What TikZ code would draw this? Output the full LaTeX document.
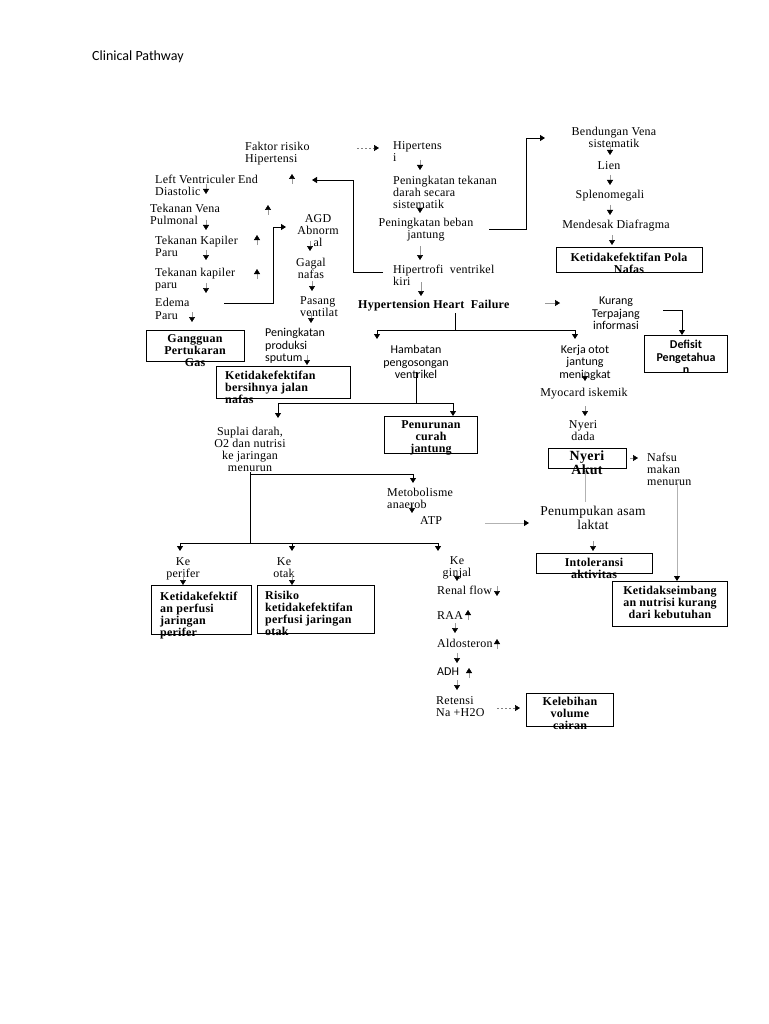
\documentclass[tikz,border=0pt]{standalone}
\usepackage{fontspec}
\setmainfont{Liberation Serif}[LetterSpace=2]
\setsansfont{Carlito}
\usetikzlibrary{arrows.meta}
\begin{document}
\begin{tikzpicture}[x=1pt,y=-1pt,
 rm/.style={inner sep=0pt, font=\fontsize{12}{12}\selectfont},
 tl/.style={rm, align=left, anchor=north west},
 tc/.style={rm, align=center, anchor=north},
 bl/.style={tl, font=\fontsize{12}{12}\selectfont\bfseries},
 bc/.style={tc, font=\fontsize{12}{12}\selectfont\bfseries},
 sc/.style={inner sep=0pt, font=\sffamily\fontsize{12}{12.5}\selectfont, align=center, anchor=north},
 sl/.style={sc, align=left, anchor=north west},
 sbc/.style={sc, font=\sffamily\bfseries\fontsize{12}{12.5}\selectfont},
 box/.style={draw, line width=0.8pt, inner sep=0pt},
 tip/.style={-{Triangle[width=6pt,length=5pt,color=black]}},
 arr/.style={draw=black!40, line width=0.5pt, tip},
 con/.style={draw=black, line width=0.8pt},
 cona/.style={con, tip},
 faint/.style={draw=black!30, line width=0.8pt},
 dsh/.style={draw=black!50, line width=0.6pt, dash pattern=on 2pt off 2pt, tip},
]
\useasboundingbox (0,0) rectangle (768,1024);
\fill[white] (0,0) rectangle (768,1024);

% title
\node[sl, font=\sffamily\fontsize{14}{16}\selectfont] (title) at (92,51) {Clinical Pathway};

% left column
\node[tl] (faktor) at (245,141.5) {Faktor risiko\\Hipertensi};
\node[tl] (lved) at (155,174.5) {Left Ventriculer End\\Diastolic};
\node[tl] (tvp) at (150,203.5) {Tekanan Vena\\Pulmonal};
\node[tl] (tkp) at (155,235.5) {Tekanan Kapiler\\Paru};
\node[tl] (tkp2) at (155,267.5) {Tekanan kapiler\\paru};
\node[tl, font=\fontsize{12}{13}\selectfont] (edema) at (155,297.5) {Edema\\Paru};
\node[tc] (agd) at (318,214.5) {AGD\\Abnorm\\al};
\node[tc] (gagal) at (311,257.5) {Gagal\\nafas};
\node[tl] (pasang) at (300,296.5) {Pasang\\ventilat};
\node[sl] (pps) at (265,328) {Peningkatan\\produksi\\sputum};

% centre column
\node[tl] (hip) at (393,141.5) {Hipertens\\i};
\node[tl] (ptd) at (393,175.5) {Peningkatan tekanan\\darah secara\\sistematik};
\node[tc] (pbj) at (426,217.5) {Peningkatan beban\\jantung};
\node[tl] (hvk) at (393,264.5) {Hipertrofi\ \ ventrikel\\kiri};
\node[bl] (hhf) at (358,299.5) {Hypertension Heart\ \ Failure};
\node[sc] (hamb) at (416,345) {Hambatan\\pengosongan\\ventrikel};

% right column
\node[tc] (bvs) at (614,126.5) {Bendungan Vena\\sistematik};
\node[tc] (lien) at (609,161.5) {Lien};
\node[tc] (spleno) at (610,189.5) {Splenomegali};
\node[tc] (mendesak) at (616,219.5) {Mendesak Diafragma};
\node[sc] (kurang) at (616,297) {Kurang\\Terpajang\\informasi};
\node[sc] (kerja) at (585,345) {Kerja otot\\jantung\\meningkat};
\node[tc] (myo) at (584,387.5) {Myocard iskemik};
\node[tc] (nyeri) at (583,420.5) {Nyeri\\dada};
\node[tl] (nafsu) at (647,452.5) {Nafsu\\makan\\menurun};
\node[tc, font=\fontsize{13.5}{14}\selectfont] (penum) at (593,506) {Penumpukan asam\\laktat};

% lower part
\node[tc] (suplai) at (250,426.5) {Suplai darah,\\O2 dan nutrisi\\ke jaringan\\menurun};
\node[tl] (metab) at (387,487.5) {Metobolisme\\anaerob};
\node[tl] (atp) at (420,516.5) {ATP};
\node[tc] (keper) at (183,557.5) {Ke\\perifer};
\node[tc] (keotak) at (284,557.5) {Ke\\otak};
\node[tc] (kegin) at (457,556.5) {Ke\\ginjal};
\node[tl] (renal) at (437,585.5) {Renal flow};
\node[tl] (raa) at (437,611.5) {RAA};
\node[tl] (aldo) at (437,638.5) {Aldosteron};
\node[sl] (adh) at (437,668) {ADH};
\node[tl] (retensi) at (436,696.5) {Retensi\\Na +H2O};

% boxes
\node[box, minimum width=98pt, minimum height=31pt] (gpgB) at (195,345.5) {};
\node[bc] (gpgT) at (195,334.5) {Gangguan\\Pertukaran\\Gas};
\node[box, minimum width=134pt, minimum height=32pt] (kbjnB) at (283,382) {};
\node[bl] (kbjnT) at (225,370.5) {Ketidakefektifan\\bersihnya jalan\\nafas};
\node[box, minimum width=146pt, minimum height=25pt] (kpnB) at (629,259.5) {};
\node[bc] (kpnT) at (629,252.5) {Ketidakefektifan Pola\\Nafas};
\node[box, minimum width=93pt, minimum height=37pt] (pcjB) at (430.5,434.5) {};
\node[bc] (pcjT) at (431,420.5) {Penurunan\\curah\\jantung};
\node[box, minimum width=83pt, minimum height=37pt] (dpB) at (685.5,353.5) {};
\node[sbc] (dpT) at (686,340) {Defisit\\Pengetahua\\n};
\node[box, minimum width=78pt, minimum height=20pt] (naB) at (587,458) {};
\node[tc, font=\fontsize{14}{14}\selectfont\bfseries] (naT) at (587,451) {Nyeri\\Akut};
\node[box, minimum width=116pt, minimum height=20pt] (iaB) at (594,563) {};
\node[bc] (iaT) at (594,557.5) {Intoleransi\\aktivitas};
\node[box, minimum width=115pt, minimum height=45pt] (knB) at (669.5,603.5) {};
\node[bc] (knT) at (670,585.5) {Ketidakseimbang\\an nutrisi kurang\\dari kebutuhan};
\node[box, minimum width=100pt, minimum height=49pt] (kpjpB) at (201,609.5) {};
\node[bl] (kpjpT) at (160,591.5) {Ketidakefektif\\an perfusi\\jaringan\\perifer};
\node[box, minimum width=117pt, minimum height=48pt] (rkpB) at (315.5,609) {};
\node[bl] (rkpT) at (265,590.5) {Risiko\\ketidakefektifan\\perfusi jaringan\\otak};
\node[box, minimum width=87pt, minimum height=33pt] (kvcB) at (569.5,709.5) {};
\node[bc] (kvcT) at (570,696.5) {Kelebihan\\volume\\cairan};

% connectors
\draw[dsh] (357,148) -- (379,148);
\draw[cona] (383,272) -- (353,272) -- (353,180) -- (312,180);
\draw[cona] (489,229) -- (526,229) -- (526,138) -- (545,138);
\draw[cona] (224,303) -- (273,303) -- (273,227) -- (286,227);
\draw[con] (455,313) -- (455,330);
\draw[con] (377,330) -- (575,330);
\draw[cona] (377,330) -- (377,339);
\draw[cona] (575,330) -- (575,339);
\draw[arr] (545,303) -- (560,303);
\draw[cona] (663,310) -- (682,310) -- (682,335);
\draw[con] (416,372) -- (416,403);
\draw[con] (278,403) -- (453,403);
\draw[cona] (278,403) -- (278,418);
\draw[cona] (453,403) -- (453,416);
\draw[con] (250,472) -- (250,543);
\draw[con] (250,474) -- (413,474);
\draw[cona] (413,474) -- (413,483);
\draw[con] (180,543) -- (438,543);
\draw[cona] (180,543) -- (180,551);
\draw[cona] (292,543) -- (292,551);
\draw[cona] (438,543) -- (438,551);
\draw[faint] (585,470) -- (585,502);
\draw[arr] (630,458) -- (638,458);
\draw[faint, tip] (677,483) -- (677,581);
\draw[faint, tip] (485,523) -- (529,523);
\draw[dsh] (497,708) -- (520,708);

% small down arrows
\foreach \x/\y in {420/167,420/210,206/191,206/227,206/257,206/290,192/319,310/248,312/288,311/320,307/362,610/152,610/182,610/212,612/242,585/378,585/413,412/510,183/582,292/582,457/578,497/593,455/630,457/660,457/687,593/548}
  \draw[arr] (\x,\y-7) -- (\x,\y+3);
\draw[arr] (420,246) -- (420,260);
\draw[arr] (421,282) -- (421,296);
% small up arrows
\foreach \x/\y in {292/177,268/208,257/238,257/272,468/613,497/642,469/671}
  \draw[arr] (\x,\y+7) -- (\x,\y-3);
\end{tikzpicture}
\end{document}
